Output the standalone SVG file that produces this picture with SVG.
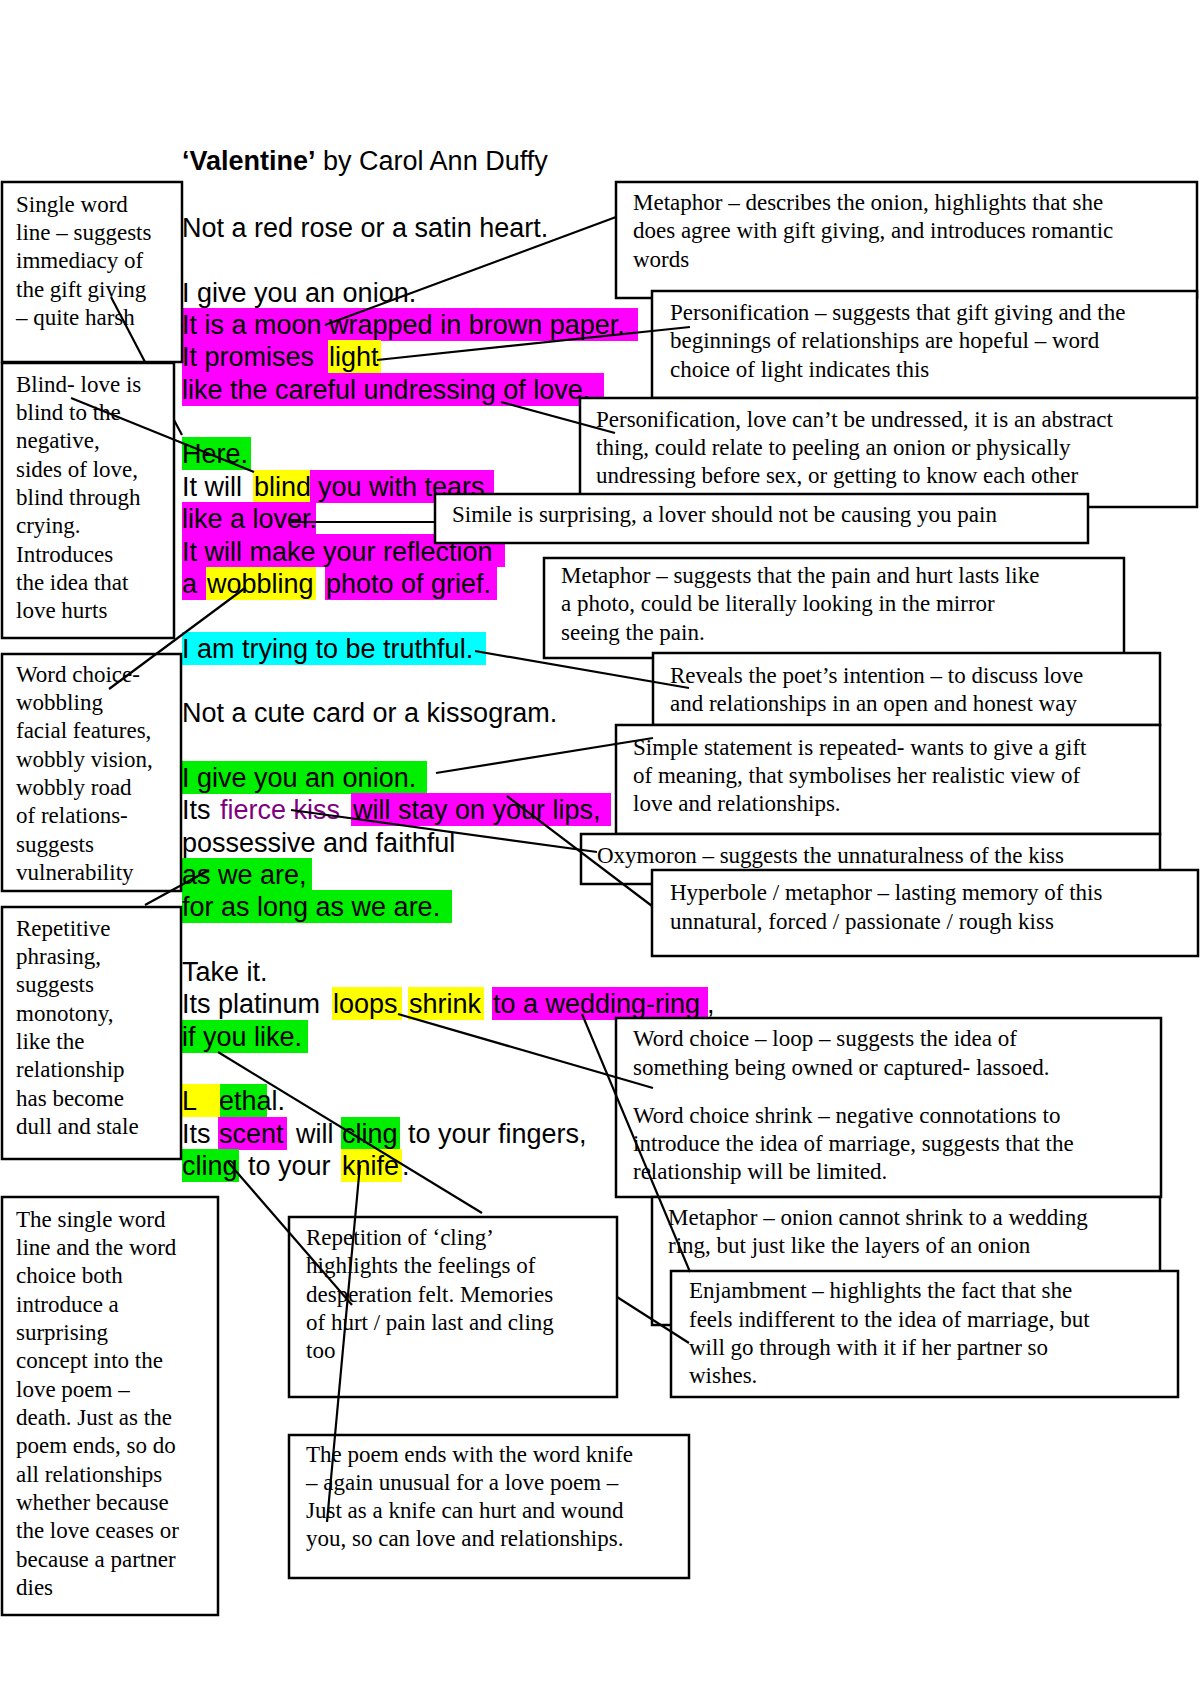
<svg xmlns="http://www.w3.org/2000/svg" width="1200" height="1696" viewBox="0 0 1200 1696">
<style>
.p{font-family:"Liberation Sans",Arial,sans-serif;font-size:27px;fill:#000}
.n{font-family:"Liberation Serif","Times New Roman",serif;font-size:23px;fill:#000}
.b{fill:#fff;stroke:#000;stroke-width:2.5}
.c line{stroke:#000;stroke-width:2.2}
.m{fill:#ff00ff}.y{fill:#ffff00}.g{fill:#00ee00}.cy{fill:#00ffff}
</style>
<rect width="1200" height="1696" fill="#fff"/>
<g id="poem">
<text class="p" x="182" y="170"><tspan font-weight="bold">‘Valentine’</tspan> by Carol Ann Duffy</text>
<rect class="m" x="182" y="308" width="456" height="33"/>
<rect class="m" x="182" y="340" width="146" height="33"/>
<rect class="y" x="328" y="340" width="53" height="33"/>
<rect class="m" x="182" y="373" width="422" height="33"/>
<rect class="g" x="182" y="437" width="69" height="33"/>
<rect class="y" x="253" y="470" width="57" height="33"/>
<rect class="m" x="310" y="470" width="184" height="33"/>
<rect class="m" x="182" y="502" width="134" height="33"/>
<rect class="m" x="182" y="534" width="323" height="33"/>
<rect class="m" x="182" y="567" width="24" height="33"/>
<rect class="y" x="206" y="567" width="110" height="33"/>
<rect class="m" x="325" y="567" width="172" height="33"/>
<rect class="cy" x="182" y="632" width="304" height="33"/>
<rect class="g" x="182" y="761" width="245" height="33"/>
<rect class="m" x="351" y="793" width="260" height="33"/>
<rect class="g" x="182" y="858" width="130" height="33"/>
<rect class="g" x="182" y="890" width="270" height="33"/>
<rect class="y" x="332" y="987" width="70" height="33"/>
<rect class="y" x="408" y="987" width="76" height="33"/>
<rect class="m" x="492" y="987" width="216" height="33"/>
<rect class="g" x="182" y="1020" width="126" height="33"/>
<rect class="y" x="182" y="1084" width="38" height="33"/>
<rect class="g" x="220" y="1084" width="47" height="33"/>
<rect class="m" x="218" y="1117" width="69" height="33"/>
<rect class="g" x="341" y="1117" width="59" height="33"/>
<rect class="g" x="182" y="1149" width="57" height="33"/>
<rect class="y" x="341" y="1149" width="61" height="33"/>
<text class="p" x="182" y="237">Not a red rose or a satin heart.</text>
<text class="p" x="182" y="302">I give you an onion.</text>
<text class="p" x="182" y="334">It is a moon wrapped in brown paper.</text>
<text class="p" x="182" y="366">It promises</text><text class="p" x="329" y="366">light</text>
<text class="p" x="182" y="399">like the careful undressing of love.</text>
<text class="p" x="182" y="463">Here.</text>
<text class="p" x="182" y="496">It will</text><text class="p" x="254" y="496">blind</text><text class="p" x="318" y="496">you with tears</text>
<text class="p" x="182" y="528">like a lover.</text>
<text class="p" x="182" y="561">It will make your reflection</text>
<text class="p" x="182" y="593">a</text><text class="p" x="207" y="593">wobbling</text><text class="p" x="326" y="593">photo of grief.</text>
<text class="p" x="182" y="658">I am trying to be truthful.</text>
<text class="p" x="182" y="722">Not a cute card or a kissogram.</text>
<text class="p" x="182" y="787">I give you an onion.</text>
<text class="p" x="182" y="819">Its</text><text class="p" x="220" y="819" fill="#800080" style="fill:#800080">fierce kiss</text><text class="p" x="353" y="819">will stay on your lips,</text>
<text class="p" x="182" y="852">possessive and faithful</text>
<text class="p" x="182" y="884">as we are,</text>
<text class="p" x="182" y="916">for as long as we are.</text>
<text class="p" x="182" y="981">Take it.</text>
<text class="p" x="182" y="1013">Its platinum</text><text class="p" x="333" y="1013">loops</text><text class="p" x="409" y="1013">shrink</text><text class="p" x="493" y="1013">to a wedding-ring</text><text class="p" x="707" y="1013">,</text>
<text class="p" x="182" y="1046">if you like.</text>
<text class="p" x="182" y="1110">L</text><text class="p" x="219" y="1110">ethal.</text>
<text class="p" x="182" y="1143">Its</text><text class="p" x="219" y="1143">scent</text><text class="p" x="296" y="1143">will</text><text class="p" x="342" y="1143">cling</text><text class="p" x="408" y="1143">to your fingers,</text>
<text class="p" x="182" y="1175">cling</text><text class="p" x="248" y="1175">to your</text><text class="p" x="342" y="1175">knife</text><text class="p" x="402" y="1175">.</text>
</g>
<g id="boxA"><rect class="b" x="2" y="182" width="180" height="180"/>
<text class="n" x="16" y="212">Single word</text><text class="n" x="16" y="240">line – suggests</text><text class="n" x="16" y="268">immediacy of</text><text class="n" x="16" y="297">the gift giving</text><text class="n" x="16" y="325">– quite harsh</text></g>
<g id="boxB"><rect class="b" x="2" y="363" width="172" height="275"/>
<text class="n" x="16" y="392">Blind- love is</text><text class="n" x="16" y="420">blind to the</text><text class="n" x="16" y="448">negative,</text><text class="n" x="16" y="477">sides of love,</text><text class="n" x="16" y="505">blind through</text><text class="n" x="16" y="533">crying.</text><text class="n" x="16" y="562">Introduces</text><text class="n" x="16" y="590">the idea that</text><text class="n" x="16" y="618">love hurts</text></g>
<g id="boxC"><rect class="b" x="2" y="654" width="179" height="237"/>
<text class="n" x="16" y="682">Word choice-</text><text class="n" x="16" y="710">wobbling</text><text class="n" x="16" y="738">facial features,</text><text class="n" x="16" y="767">wobbly vision,</text><text class="n" x="16" y="795">wobbly road</text><text class="n" x="16" y="823">of relations-</text><text class="n" x="16" y="852">suggests</text><text class="n" x="16" y="880">vulnerability</text></g>
<g id="boxD"><rect class="b" x="2" y="907" width="179" height="252"/>
<text class="n" x="16" y="936">Repetitive</text><text class="n" x="16" y="964">phrasing,</text><text class="n" x="16" y="992">suggests</text><text class="n" x="16" y="1021">monotony,</text><text class="n" x="16" y="1049">like the</text><text class="n" x="16" y="1077">relationship</text><text class="n" x="16" y="1106">has become</text><text class="n" x="16" y="1134">dull and stale</text></g>
<g id="boxE"><rect class="b" x="2" y="1197" width="216" height="418"/>
<text class="n" x="16" y="1227">The single word</text><text class="n" x="16" y="1255">line and the word</text><text class="n" x="16" y="1283">choice both</text><text class="n" x="16" y="1312">introduce a</text><text class="n" x="16" y="1340">surprising</text><text class="n" x="16" y="1368">concept into the</text><text class="n" x="16" y="1397">love poem –</text><text class="n" x="16" y="1425">death. Just as the</text><text class="n" x="16" y="1453">poem ends, so do</text><text class="n" x="16" y="1482">all relationships</text><text class="n" x="16" y="1510">whether because</text><text class="n" x="16" y="1538">the love ceases or</text><text class="n" x="16" y="1567">because a partner</text><text class="n" x="16" y="1595">dies</text></g>
<g id="boxF"><rect class="b" x="616" y="182" width="581" height="116"/>
<text class="n" x="633" y="210">Metaphor – describes the onion, highlights that she</text><text class="n" x="633" y="238">does agree with gift giving, and introduces romantic</text><text class="n" x="633" y="267">words</text></g>
<g id="boxG"><rect class="b" x="652" y="291" width="545" height="107"/>
<text class="n" x="670" y="320">Personification – suggests that gift giving and the</text><text class="n" x="670" y="348">beginnings of relationships are hopeful – word</text><text class="n" x="670" y="377">choice of light indicates this</text></g>
<g id="boxH"><rect class="b" x="580" y="398" width="617" height="109"/>
<text class="n" x="596" y="427">Personification, love can’t be undressed, it is an abstract</text><text class="n" x="596" y="455">thing, could relate to peeling an onion or physically</text><text class="n" x="596" y="483">undressing before sex, or getting to know each other</text></g>
<g id="boxI"><rect class="b" x="435" y="494" width="653" height="49"/>
<text class="n" x="452" y="522">Simile is surprising, a lover should not be causing you pain</text></g>
<g id="boxJ"><rect class="b" x="544" y="558" width="580" height="100"/>
<text class="n" x="561" y="583">Metaphor – suggests that the pain and hurt lasts like</text><text class="n" x="561" y="611">a photo, could be literally looking in the mirror</text><text class="n" x="561" y="640">seeing the pain.</text></g>
<g id="boxK"><rect class="b" x="653" y="653" width="507" height="72"/>
<text class="n" x="670" y="683">Reveals the poet’s intention – to discuss love</text><text class="n" x="670" y="711">and relationships in an open and honest way</text></g>
<g id="boxL"><rect class="b" x="616" y="725" width="544" height="109"/>
<text class="n" x="633" y="755">Simple statement is repeated- wants to give a gift</text><text class="n" x="633" y="783">of meaning, that symbolises her realistic view of</text><text class="n" x="633" y="811">love and relationships.</text></g>
<g id="boxM"><rect class="b" x="581" y="834" width="579" height="50"/>
<text class="n" x="597" y="863">Oxymoron – suggests the unnaturalness of the kiss</text></g>
<g id="boxN"><rect class="b" x="652" y="870" width="546" height="86"/>
<text class="n" x="670" y="900">Hyperbole / metaphor – lasting memory of this</text><text class="n" x="670" y="929">unnatural, forced / passionate / rough kiss</text></g>
<g id="boxO"><rect class="b" x="616" y="1018" width="545" height="179"/>
<text class="n" x="633" y="1046">Word choice – loop – suggests the idea of</text><text class="n" x="633" y="1075">something being owned or captured- lassoed.</text><text class="n" x="633" y="1123">Word choice shrink – negative connotations to</text><text class="n" x="633" y="1151">introduce the idea of marriage, suggests that the</text><text class="n" x="633" y="1179">relationship will be limited.</text></g>
<g id="boxP"><rect class="b" x="652" y="1197" width="508" height="128"/>
<text class="n" x="668" y="1225">Metaphor – onion cannot shrink to a wedding</text><text class="n" x="668" y="1253">ring, but just like the layers of an onion</text></g>
<g id="boxQ"><rect class="b" x="671" y="1271" width="507" height="126"/>
<text class="n" x="689" y="1298">Enjambment – highlights the fact that she</text><text class="n" x="689" y="1327">feels indifferent to the idea of marriage, but</text><text class="n" x="689" y="1355">will go through with it if her partner so</text><text class="n" x="689" y="1383">wishes.</text></g>
<g id="boxR"><rect class="b" x="289" y="1217" width="328" height="180"/>
<text class="n" x="306" y="1245">Repetition of ‘cling’</text><text class="n" x="306" y="1273">highlights the feelings of</text><text class="n" x="306" y="1302">desperation felt. Memories</text><text class="n" x="306" y="1330">of hurt / pain last and cling</text><text class="n" x="306" y="1358">too</text></g>
<g id="boxS"><rect class="b" x="289" y="1435" width="400" height="143"/>
<text class="n" x="306" y="1462">The poem ends with the word knife</text><text class="n" x="306" y="1490">– again unusual for a love poem –</text><text class="n" x="306" y="1518">Just as a knife can hurt and wound</text><text class="n" x="306" y="1546">you, so can love and relationships.</text></g>
<g id="connectors" class="c">
<line x1="111" y1="297" x2="145" y2="362"/>
<line x1="325" y1="325" x2="616" y2="217"/>
<line x1="377" y1="360" x2="690" y2="327"/>
<line x1="501" y1="402" x2="615" y2="433"/>
<line x1="71" y1="398" x2="254" y2="472"/>
<line x1="174" y1="420" x2="182" y2="435"/>
<line x1="291" y1="522" x2="436" y2="522"/>
<line x1="245" y1="588" x2="109" y2="689"/>
<line x1="475" y1="651" x2="689" y2="688"/>
<line x1="436" y1="773" x2="653" y2="738"/>
<line x1="291" y1="810" x2="597" y2="852"/>
<line x1="507" y1="796" x2="652" y2="906"/>
<line x1="209" y1="870" x2="145" y2="905"/>
<line x1="398" y1="1014" x2="653" y2="1088"/>
<line x1="582" y1="1014" x2="690" y2="1272"/>
<line x1="617" y1="1297" x2="689" y2="1343"/>
<line x1="218" y1="1052" x2="482" y2="1213"/>
<line x1="228" y1="1162" x2="352" y2="1305"/>
<line x1="360" y1="1165" x2="327" y2="1522"/>
</g>
</svg>
